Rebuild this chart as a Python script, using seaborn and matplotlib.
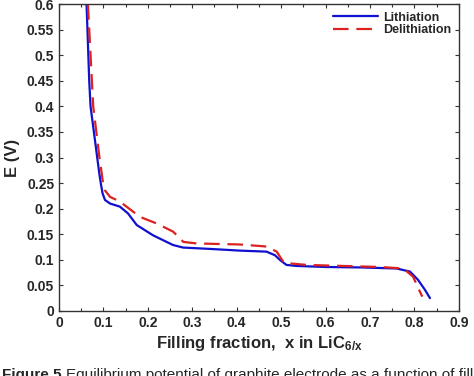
import numpy as np
import pandas as pd
import seaborn as sns
import matplotlib.pyplot as plt
from matplotlib.ticker import MultipleLocator, FuncFormatter

# ---- data ----
lith_x = [0.062, 0.064, 0.066, 0.068, 0.071, 0.0785, 0.086, 0.0905, 0.094, 0.098, 0.1035,
          0.115, 0.137, 0.155, 0.175, 0.2115, 0.2565, 0.279, 0.3465, 0.407, 0.467,
          0.486, 0.497, 0.512, 0.535, 0.60, 0.684, 0.76, 0.79, 0.808, 0.824, 0.835]
lith_y = [0.60, 0.55, 0.50, 0.45, 0.40, 0.35, 0.30, 0.27, 0.25, 0.23, 0.217,
          0.210, 0.204, 0.191, 0.168, 0.148, 0.129, 0.124, 0.121, 0.118, 0.116,
          0.109, 0.100, 0.090, 0.088, 0.086, 0.085, 0.083, 0.077, 0.061, 0.041, 0.025]

delith_x = [0.065, 0.068, 0.071, 0.074, 0.077, 0.084, 0.091, 0.096, 0.099, 0.104,
            0.115, 0.137, 0.182, 0.22, 0.257, 0.28, 0.31, 0.407, 0.467, 0.49, 0.505,
            0.52, 0.557, 0.722, 0.775, 0.797, 0.816, 0.818]
delith_y = [0.60, 0.55, 0.50, 0.45, 0.40, 0.35, 0.30, 0.27, 0.25, 0.235,
            0.223, 0.214, 0.184, 0.171, 0.155, 0.135, 0.132, 0.130, 0.126, 0.116, 0.096,
            0.093, 0.090, 0.086, 0.083, 0.067, 0.031, 0.028]

labels = ["Lithiation", "Delithiation"]

df = pd.concat([
    pd.DataFrame({"x": lith_x, "E": lith_y, "curve": labels[0]}),
    pd.DataFrame({"x": delith_x, "E": delith_y, "curve": labels[1]}),
])

sns.set_style("ticks")
plt.rcParams['font.family'] = ['Liberation Sans', 'DejaVu Sans']
plt.rcParams['font.weight'] = 'bold'

fig = plt.figure(figsize=(4.74, 3.76), dpi=100)
ax = fig.add_axes([0.1245, 0.173, 0.8435, 0.816])

sns.lineplot(data=df, x="x", y="E", hue="curve", style="curve", sort=False,
             palette={labels[0]: "#1010d0", labels[1]: "#dd2020"},
             dashes={labels[0]: "", labels[1]: (7, 3.5)},
             linewidth=1.6, ax=ax)

ax.set_xlim(0, 0.9)
ax.set_ylim(0, 0.6)
ax.xaxis.set_major_locator(MultipleLocator(0.1))
ax.xaxis.set_minor_locator(MultipleLocator(0.05))
ax.yaxis.set_major_locator(MultipleLocator(0.05))
fmt = FuncFormatter(lambda v, p: ("%.2f" % v).rstrip('0').rstrip('.') if abs(v) > 1e-9 else "0")
ax.xaxis.set_major_formatter(fmt)
ax.yaxis.set_major_formatter(fmt)
ax.tick_params(which='both', direction='in', top=True, right=True, labelsize=10,
               width=0.8, color='#333333')
ax.tick_params(which='major', length=3)
ax.tick_params(which='minor', length=2.5)
for s in ax.spines.values():
    s.set_linewidth(1.0)
    s.set_color('#333333')

ax.set_xlabel(r"Filling fraction,  x in LiC$\mathregular{_{6/x}}$", fontsize=12,
              fontweight='bold', labelpad=3)
ax.set_ylabel("E (V)", fontsize=12, fontweight='bold', labelpad=5)

leg = ax.legend(loc='upper right', frameon=False, handlelength=3.6,
                borderaxespad=0.2, labelspacing=0.05, handletextpad=0.4,
                prop={'weight': 'bold', 'size': 9})

# caption, cut off at the bottom edge as in the source
fig.text(0.005, 0.021, "Figure 5.", fontsize=11, fontweight='bold', va='top')
fig.text(0.14, 0.021, "Equilibrium potential of graphite electrode as a function of filling fraction",
         fontsize=11, fontweight='normal', va='top')

fig.savefig("out.png", dpi=100)
